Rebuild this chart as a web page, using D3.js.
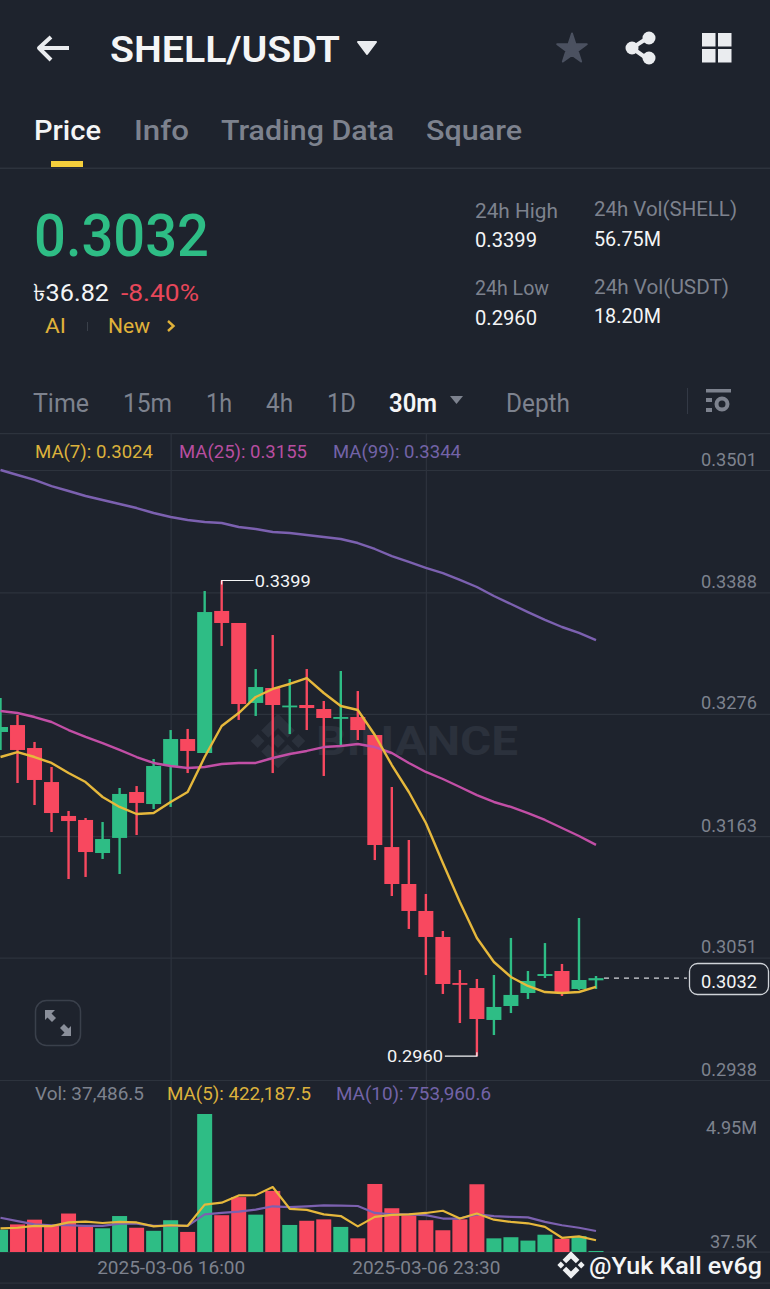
<!DOCTYPE html>
<html><head><meta charset="utf-8">
<script src="https://cdn.jsdelivr.net/npm/d3@7"></script>
<style>html,body{margin:0;padding:0;background:#1e232d}svg{display:block}</style>
</head><body><svg id="c" width="770" height="1289"></svg>
<script>
const times=["2025-03-06 11:00","2025-03-06 11:30","2025-03-06 12:00","2025-03-06 12:30","2025-03-06 13:00","2025-03-06 13:30","2025-03-06 14:00","2025-03-06 14:30","2025-03-06 15:00","2025-03-06 15:30","2025-03-06 16:00","2025-03-06 16:30","2025-03-06 17:00","2025-03-06 17:30","2025-03-06 18:00","2025-03-06 18:30","2025-03-06 19:00","2025-03-06 19:30","2025-03-06 20:00","2025-03-06 20:30","2025-03-06 21:00","2025-03-06 21:30","2025-03-06 22:00","2025-03-06 22:30","2025-03-06 23:00","2025-03-06 23:30","2025-03-07 00:00","2025-03-07 00:30","2025-03-07 01:00","2025-03-07 01:30","2025-03-07 02:00","2025-03-07 02:30","2025-03-07 03:00","2025-03-07 03:30","2025-03-07 04:00","2025-03-07 04:30"];
const opens=[.32592,.32656,.32444,.32130,.31817,.31780,.31475,.31614,.32038,.31927,.32278,.32527,.32398,.33709,.33598,.32860,.32998,.32827,.32841,.32804,.32721,.32730,.32564,.31530,.31189,.30940,.30700,.30275,.30229,.29934,.30063,.30183,.30340,.30386,.30220,.30300];
const highs=[.32906,.32749,.32500,.32269,.31863,.31798,.31761,.32075,.32093,.32343,.32610,.32620,.33893,.33990,.33598,.33173,.33487,.33081,.33173,.32878,.33155,.32970,.32564,.32084,.31595,.31097,.30755,.30395,.30312,.30349,.30691,.30386,.30644,.30451,.30875,.30340];
const lows=[.32426,.32121,.31918,.31669,.31235,.31254,.31420,.31281,.31641,.31881,.31900,.32213,.32398,.33386,.32703,.32740,.32213,.32573,.32610,.32186,.32463,.32518,.31410,.31078,.30774,.30349,.30174,.29906,.29600,.29795,.29998,.30128,.30321,.30155,.30211,.30220];
const closes=[.32638,.32426,.32149,.31844,.31770,.31484,.31604,.32020,.31937,.32278,.32527,.32417,.33699,.33598,.32850,.33007,.32841,.32836,.32813,.32721,.32730,.32610,.31549,.31189,.30940,.30700,.30266,.30266,.29943,.30054,.30165,.30294,.30358,.30183,.30303,.30320];
const ma7=[.32361,.32407,.32361,.32306,.32213,.32130,.31992,.31900,.31835,.31844,.31946,.32038,.32361,.32647,.32767,.32915,.32989,.33035,.33090,.32952,.32832,.32795,.32564,.32287,.32038,.31752,.31383,.31023,.30691,.30469,.30331,.30248,.30192,.30183,.30192,.30240];
const ma25=[.32786,.32767,.32730,.32684,.32610,.32546,.32490,.32426,.32361,.32306,.32278,.32260,.32269,.32297,.32306,.32306,.32352,.32389,.32417,.32453,.32463,.32481,.32453,.32398,.32306,.32223,.32158,.32084,.32010,.31946,.31900,.31844,.31780,.31706,.31632,.31550];
const ma99=[.35010,.34964,.34918,.34862,.34816,.34770,.34733,.34696,.34659,.34613,.34576,.34549,.34530,.34521,.34484,.34465,.34438,.34429,.34410,.34392,.34373,.34336,.34281,.34216,.34161,.34106,.34059,.33995,.33930,.33847,.33773,.33699,.33626,.33561,.33506,.33440];
const volumes=[800000,990000,1160000,960000,1380000,920000,850000,1290000,870000,760000,1140000,720000,4950000,1320000,1970000,1340000,2190000,970000,1120000,1170000,900000,490000,2440000,1570000,1320000,1140000,780000,1170000,2430000,490000,530000,410000,620000,470000,570000,37486.5];
const volMa5=[850000,870000,940000,930000,1060000,1090000,1040000,1080000,1060000,920000,960000,940000,1700000,1770000,2030000,2040000,2330000,1550000,1510000,1350000,1290000,920000,1260000,1330000,1350000,1400000,1480000,1200000,1380000,1160000,1080000,1030000,900000,510000,560000,422187.5];
const volMa10=[1230000,1110000,990000,960000,960000,940000,940000,1020000,1020000,940000,940000,940000,1350000,1400000,1450000,1520000,1640000,1610000,1640000,1670000,1660000,1650000,1400000,1350000,1350000,1320000,1200000,1200000,1350000,1290000,1260000,1240000,1080000,960000,870000,753960.6];
const priceTicks=[.3501,.3388,.3276,.3163,.3051,.2938];
const timeTicks=["2025-03-06 16:00","2025-03-06 23:30"];
const volTicks=[{v:4950000,label:"4.95M",w:51,dy:20},{v:37486.5,label:"37.5K",w:47,dy:-3}];
const hiLabel=0.3399, loLabel=0.2960, last=0.3032;

const BG="#1e232d",GREEN="#2ebd85",RED="#f8485f",GRID="#2d333d",MUTED="#7d828e",WHITE="#eaecef",
      C7="#e6b83c",C25="#c24fa6",C99="#7c61b0",V7="#dcb23c",V25="#b84ea0",V99="#7363a8";
const FONT="Roboto, 'Noto Sans', sans-serif";
const svg=d3.select("#c");
svg.append("rect").attr("width",770).attr("height",1289).attr("fill",BG);

function t(s,x,y,size,w,color,weight,anchor){
  const n=svg.append("text").attr("x",x).attr("y",y).attr("font-family",FONT).attr("font-size",size)
    .attr("fill",color).attr("font-weight",weight||400).text(s);
  if(w){n.attr("textLength",w).attr("lengthAdjust","spacingAndGlyphs");}
  if(anchor)n.attr("text-anchor",anchor);
  return n;
}
function logo(cx,cy,k,fill,centre){
  const g=svg.append("g").attr("transform",`translate(${cx},${cy}) scale(${k})`).attr("fill",fill);
  g.append("path").attr("d","M0 -13L8 -5L4.6 -1.6L0 -6.2L-4.6 -1.6L-8 -5Z");
  g.append("path").attr("d","M0 13L8 5L4.6 1.6L0 6.2L-4.6 1.6L-8 5Z");
  g.append("path").attr("d","M-13 0L-9.7 -3.3L-6.4 0L-9.7 3.3Z");
  g.append("path").attr("d","M13 0L9.7 -3.3L6.4 0L9.7 3.3Z");
  if(centre)g.append("path").attr("d","M0 -3.3L3.3 0L0 3.3L-3.3 0Z");
}
const x=d3.scalePoint().domain(times).range([0.5,596]);
const y=d3.scaleLinear().domain([.2938,.3501]).range([1080,470]);
const yv=d3.scaleLinear().domain([0,4950000]).range([1252,1114]);

// ---- top header
svg.append("path").attr("d","M69 48H40M51 37L39 48L51 60").attr("fill","none").attr("stroke",WHITE).attr("stroke-width",4).attr("stroke-linejoin","round");
t("SHELL/USDT",110,62,36,230,"#f4f5f6",600);
svg.append("path").attr("d","M358 42H376L367 54Z").attr("fill",WHITE).attr("stroke",WHITE).attr("stroke-width",2).attr("stroke-linejoin","round");
svg.append("path").attr("d",d3.symbol(d3.symbolStar,270)()).attr("transform","translate(572,49)").attr("fill","#4b5160").attr("stroke","#4b5160").attr("stroke-width",2).attr("stroke-linejoin","round");
svg.append("path").attr("d","M649 37L632 48L649 60").attr("fill","none").attr("stroke",WHITE).attr("stroke-width",4);
[[649,38],[632,48],[649,58]].forEach(p=>svg.append("circle").attr("cx",p[0]).attr("cy",p[1]).attr("r",6.5).attr("fill",WHITE));
[[702,33],[718,33],[702,49],[718,49]].forEach(p=>svg.append("rect").attr("x",p[0]).attr("y",p[1]).attr("width",13.5).attr("height",13.5).attr("fill",WHITE));

t("Price",34,140,28,67,"#f4f5f6",500);
t("Info",134,140,28,55,MUTED,500);
t("Trading Data",221,140,28,173,MUTED,500);
t("Square",426,140,28,96,MUTED,500);
svg.append("rect").attr("x",51).attr("y",161).attr("width",32).attr("height",6).attr("fill","#f5cf3c");
svg.append("rect").attr("x",0).attr("y",167.5).attr("width",770).attr("height",1.5).attr("fill",GRID);

// ---- price block
t("0.3032",34,256,60,175,GREEN,500);
t("৳36.82",33,301,24,76,"#f4f5f6",400);
t("-8.40%",121,301,24,78,"#e8475a",400);
t("AI",45,333,20,21,"#e0b23a",400);
svg.append("rect").attr("x",87).attr("y",322).attr("width",1).attr("height",9).attr("fill","#3a404a");
t("New",108,333,20,42,"#e0b23a",400);
svg.append("path").attr("d","M168 321L173.5 326L168 331").attr("fill","none").attr("stroke","#e0b23a").attr("stroke-width",2.4);

t("24h High",475,218,20,83,MUTED);
t("0.3399",475,247,20,62,"#f4f5f6");
t("24h Vol(SHELL)",594,216,20,143,MUTED);
t("56.75M",594,246,20,67,"#f4f5f6");
t("24h Low",475,295,20,74,MUTED);
t("0.2960",475,325,20,62,"#f4f5f6");
t("24h Vol(USDT)",594,294,20,135,MUTED);
t("18.20M",594,323,20,67,"#f4f5f6");

// ---- interval tabs
t("Time",33,412,25,56,MUTED);
t("15m",123,412,25,49,MUTED);
t("1h",206,412,25,26,MUTED);
t("4h",266,412,25,27,MUTED);
t("1D",327,412,25,29,MUTED);
t("30m",389,412,25,48,"#f4f5f6",600);
svg.append("path").attr("d","M450 396H463L456.5 404Z").attr("fill",MUTED);
t("Depth",506,412,25,64,MUTED);
svg.append("rect").attr("x",687).attr("y",388).attr("width",1).attr("height",26).attr("fill","#333945");
svg.append("rect").attr("x",706).attr("y",389).attr("width",25).attr("height",3.5).attr("fill",MUTED);
svg.append("rect").attr("x",706).attr("y",398).attr("width",6).attr("height",4).attr("fill",MUTED);
svg.append("rect").attr("x",706).attr("y",408).attr("width",6).attr("height",4).attr("fill",MUTED);
svg.append("circle").attr("cx",722).attr("cy",404).attr("r",5.5).attr("fill","none").attr("stroke",MUTED).attr("stroke-width",4);
svg.append("rect").attr("x",0).attr("y",433).attr("width",770).attr("height",1.2).attr("fill",GRID);

// ---- watermark
logo(278,741,2.1,"#2b313c",true);
t("BINANCE",316,755,40,202,"#2b313c",700);

// ---- grid & axes
const ga=svg.append("g").attr("transform","translate(770,0)")
  .call(d3.axisLeft(y).tickValues(priceTicks).tickSize(770).tickFormat(d3.format(".4f")));
ga.select(".domain").remove();
ga.selectAll("line").attr("stroke",GRID).attr("stroke-width",1.2);
ga.selectAll("text").attr("x",-13).attr("dy",-5).attr("text-anchor","end").attr("font-family",FONT).attr("font-size",18)
  .attr("fill",MUTED).attr("textLength",56).attr("lengthAdjust","spacingAndGlyphs");
const gx=svg.append("g").attr("transform","translate(0,1252)")
  .call(d3.axisTop(x).tickValues(timeTicks).tickSize(819).tickFormat(d=>d));
gx.select(".domain").remove();
gx.selectAll("line").attr("stroke",GRID).attr("stroke-width",1.2);
gx.selectAll("text").attr("y",22).attr("dy",0).attr("font-family",FONT).attr("font-size",18).attr("text-anchor","middle")
  .attr("fill",MUTED).attr("textLength",148).attr("lengthAdjust","spacingAndGlyphs");
svg.append("rect").attr("x",0).attr("y",1251.5).attr("width",770).attr("height",1.2).attr("fill",GRID);
svg.append("rect").attr("x",0).attr("y",1282.5).attr("width",770).attr("height",1.2).attr("fill",GRID);

// ---- legends
t("MA(7): 0.3024",35,458,18,118,V7);
t("MA(25): 0.3155",179,458,18,128,V25);
t("MA(99): 0.3344",333,458,18,128,V99);
t("Vol: 37,486.5",35,1100,18,109,MUTED);
t("MA(5): 422,187.5",167,1100,18,144,V7);
t("MA(10): 753,960.6",336,1100,18,155,V99);

// ---- candles
const idx=d3.range(times.length);
const barW=15;
const col=i=>closes[i]>=opens[i]?GREEN:RED;
svg.append("g").selectAll("line").data(idx).join("line")
  .attr("x1",i=>x(times[i])).attr("x2",i=>x(times[i]))
  .attr("y1",i=>y(highs[i])).attr("y2",i=>y(lows[i]))
  .attr("stroke",col).attr("stroke-width",2.4);
svg.append("g").selectAll("rect").data(idx).join("rect")
  .attr("x",i=>x(times[i])-barW/2).attr("width",barW)
  .attr("y",i=>y(Math.max(opens[i],closes[i])))
  .attr("height",i=>Math.max(1.8,Math.abs(y(opens[i])-y(closes[i]))))
  .attr("fill",col);

const mkLine=(vals,sc,color,w)=>svg.append("path")
  .datum(idx)
  .attr("fill","none").attr("stroke",color).attr("stroke-width",w).attr("stroke-linejoin","round")
  .attr("d",d3.line().x(i=>x(times[i])).y(i=>sc(vals[i])));
mkLine(ma99,y,C99,2.4);
mkLine(ma25,y,C25,2.4);
mkLine(ma7,y,C7,2.4);

// ---- high / low / last markers
svg.append("path").attr("fill","none").attr("stroke","#f4f5f6").attr("stroke-width",1.2)
  .attr("d",`M${x(times[13])} ${y(hiLabel)+4}V${y(hiLabel)}H${x(times[13])+32}`);
t("0.3399",x(times[13])+33,y(hiLabel)+6,17,56,"#f4f5f6");
svg.append("path").attr("fill","none").attr("stroke","#f4f5f6").attr("stroke-width",1.2)
  .attr("d",`M${x(times[28])} ${y(loLabel)-4}V${y(loLabel)}H${x(times[28])-32}`);
t("0.2960",x(times[28])-90,y(loLabel)+6,17,56,"#f4f5f6");
svg.append("line").attr("x1",x(times[35])+8).attr("x2",687).attr("y1",y(last)).attr("y2",y(last))
  .attr("stroke","#d5d8dc").attr("stroke-width",1.2).attr("stroke-dasharray","5 5");
svg.append("rect").attr("x",689.5).attr("y",963.5).attr("width",79).attr("height",31).attr("rx",8)
  .attr("fill",BG).attr("stroke","#cfd3d8").attr("stroke-width",1.3);
t("0.3032",701,988,18,56,"#f4f5f6");

// ---- expand button
svg.append("rect").attr("x",35.5).attr("y",1000.5).attr("width",45).attr("height",45).attr("rx",11)
  .attr("fill","none").attr("stroke","#3a404b").attr("stroke-width",1.5);
svg.append("path").attr("d","M45 1010H55L51.5 1013.5L56 1018L52 1022L47.5 1017.5L45 1020ZM71 1036H61L64.5 1032.5L60 1028L64 1024L68.5 1028.5L71 1026Z")
  .attr("fill","#8a8f9a");

// ---- volume
svg.append("g").selectAll("rect").data(idx).join("rect")
  .attr("x",i=>x(times[i])-barW/2).attr("width",barW)
  .attr("y",i=>yv(volumes[i])).attr("height",i=>yv(0)-yv(volumes[i]))
  .attr("fill",col);
mkLine(volMa10,yv,C99,2.2);
mkLine(volMa5,yv,C7,2.2);
volTicks.forEach(d=>t(d.label,757,yv(d.v)+d.dy,18,d.w,MUTED,400,"end"));

// ---- author stamp
logo(571,1265,1.05,"#eef0f2",false);
t("@Yuk Kall ev6g",589,1274,24,173,"#f4f5f6",500);
</script></body></html>
